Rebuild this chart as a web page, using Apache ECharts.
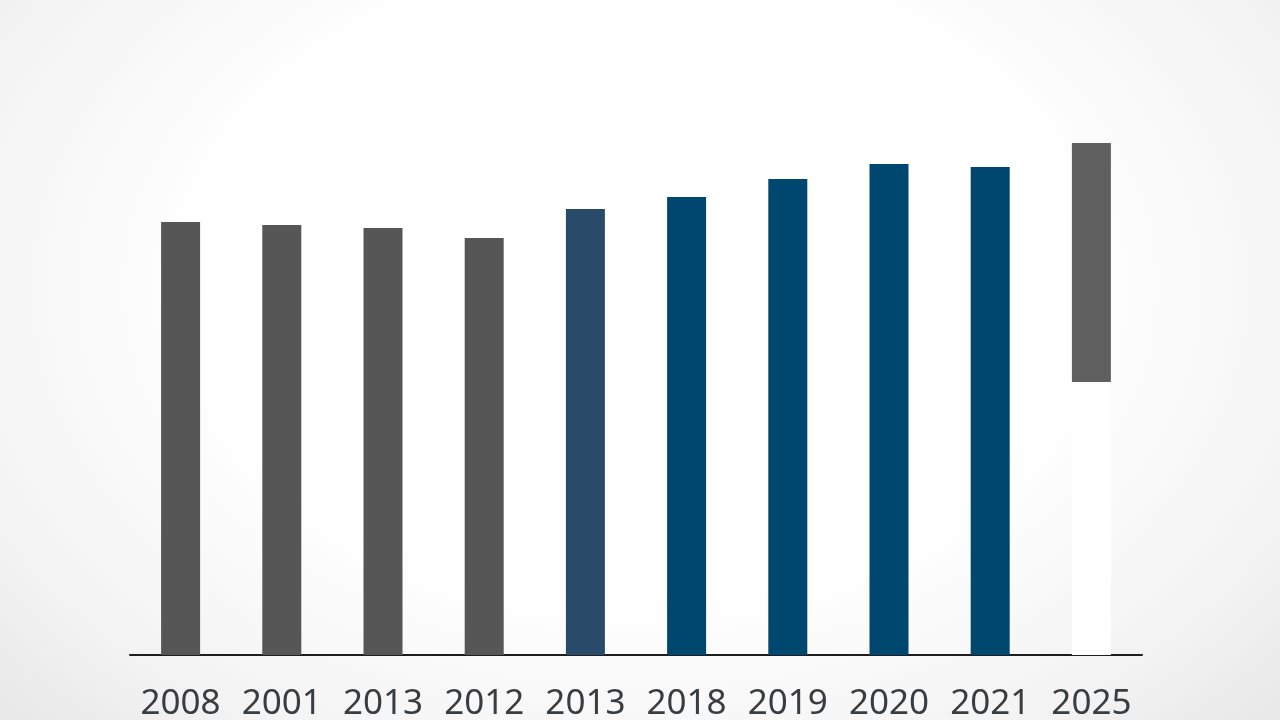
<!DOCTYPE html>
<html>
<head>
<meta charset="utf-8">
<style>
  html, body { margin:0; padding:0; width:1280px; height:720px; overflow:hidden;
    background: radial-gradient(ellipse 75% 95% at 50% 40%, #ffffff 45%, #f3f3f3 75%, #e2e2e2 100%); }
  #chart { width:1280px; height:720px; }
</style>
<script src="https://cdn.jsdelivr.net/npm/echarts@6/dist/echarts.min.js"></script>
</head>
<body>
<div id="chart"></div>
<script>
// Data
const categories = ['2008', '2001', '2013', '2012', '2013', '2018', '2019', '2020', '2021', '2025'];
const barValues  = [86.6, 86.0, 85.4, 83.4, 89.2, 91.6, 95.2, 98.2, 97.6, 54.6];
const topValues  = ['-', '-', '-', '-', '-', '-', '-', '-', '-', 47.8];

// Styles
const barColors = ['#565656', '#565656', '#565656', '#565656', '#2a4a69', '#00476f', '#00476f', '#00476f', '#00476f', '#ffffff'];
const topColor = '#606060';

const chart = echarts.init(document.getElementById('chart'), null, { renderer: 'canvas' });
chart.setOption({
  backgroundColor: 'transparent',
  animation: false,
  grid: { left: 130, right: 138, top: 55, bottom: 65, containLabel: false, outerBoundsMode: 'none' },
  xAxis: {
    type: 'category',
    data: categories,
    axisLine: { show: true, lineStyle: { color: '#1e1e1e', width: 2 } },
    axisTick: { show: false },
    axisLabel: { interval: 0, hideOverlap: false, fontFamily: 'Noto Sans', fontSize: 35, color: '#383d42', margin: 32 }
  },
  yAxis: {
    type: 'value', min: 0, max: 120, interval: 20,
    show: false, splitLine: { show: false }
  },
  series: [
    {
      type: 'bar', stack: 's', barWidth: 39,
      data: barValues.map((v, i) => ({ value: v, itemStyle: { color: barColors[i] } }))
    },
    {
      type: 'bar', stack: 's', barWidth: 39,
      itemStyle: { color: topColor },
      data: topValues
    }
  ]
});
</script>
</body>
</html>
